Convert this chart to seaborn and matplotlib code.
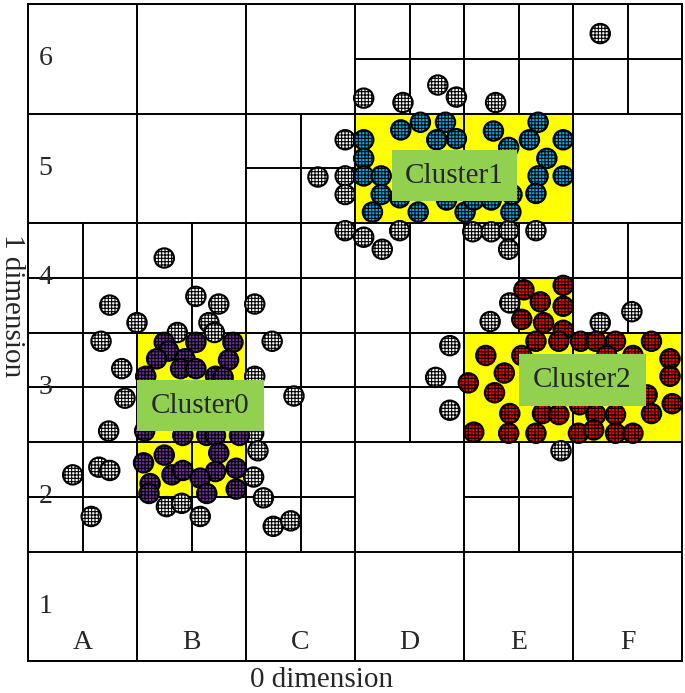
import matplotlib.pyplot as plt
import matplotlib.patches as mpatches
import seaborn as sns
import pandas as pd

# grid units: one cell = 1 along each dimension (A..F, 1..6)
col_labels = ["A", "B", "C", "D", "E", "F"]
row_labels = ["1", "2", "3", "4", "5", "6"]

# cells that are split into four (column index, row index)
split_cells = [(3, 5), (4, 5), (5, 5),
               (2, 4),
               (0, 3), (1, 3), (2, 3), (3, 3), (4, 3), (5, 3),
               (0, 2), (2, 2), (3, 2),
               (0, 1), (1, 1), (2, 1), (4, 1)]

# dense (yellow) regions: x, y, width, height
dense_areas = [(1.0, 1.5, 1.0, 1.5), (3.0, 4.0, 2.0, 1.0),
               (4.0, 2.0, 2.0, 1.0), (4.5, 3.0, 0.5, 0.5)]

cluster_names = ["Cluster0", "Cluster1", "Cluster2"]

noise_x = [1.25, 0.75, 1.54, 1.75, 2.08, 1.00, 1.66, 1.71, 1.37, 0.67, 2.24, 0.86, 2.08,
           0.89, 2.44, 2.07, 0.74, 2.11, 0.41, 0.65, 0.75, 2.07, 0.58, 1.27, 1.41, 1.58,
           2.16, 2.25, 2.41,
           5.25, 3.08, 3.44, 3.76, 3.93, 4.29, 2.91, 2.66, 2.91, 2.91, 2.91, 3.08, 3.25,
           3.41, 4.08, 4.25, 4.41, 4.41, 4.66,
           4.42, 4.24, 3.87, 3.74, 3.87, 5.25, 5.54, 4.89]
noise_y = [3.68, 3.25, 3.33, 3.26, 3.26, 3.09, 3.09, 3.00, 3.00, 2.92, 2.92, 2.67, 2.60,
           2.40, 2.42, 2.08, 2.10, 1.92, 1.70, 1.77, 1.74, 1.68, 1.32, 1.41, 1.44, 1.32,
           1.49, 1.23, 1.28,
           5.73, 5.14, 5.10, 5.26, 5.15, 5.10, 4.76, 4.42, 4.43, 4.26, 3.93, 3.87, 3.76,
           3.93, 3.92, 3.92, 3.93, 3.76, 3.93,
           3.27, 3.10, 2.88, 2.59, 2.29, 3.09, 3.19, 1.92]

c0_x = [1.25, 1.29, 1.54, 1.88, 1.18, 1.44, 1.84, 1.40, 1.54, 1.08, 1.72, 1.79, 1.07,
        1.42, 1.64, 1.72, 1.94, 1.25, 1.06, 1.75, 1.32, 1.42, 1.72, 1.91, 1.58, 1.12,
        1.11, 1.64, 1.91]
c0_y = [2.91, 2.83, 2.91, 2.91, 2.76, 2.76, 2.75, 2.67, 2.67, 2.60, 2.60, 2.59, 2.10,
        2.06, 2.06, 2.06, 2.06, 1.88, 1.81, 1.90, 1.70, 1.74, 1.73, 1.76, 1.67, 1.62,
        1.53, 1.53, 1.57]

c1_x = [3.08, 3.08, 3.08, 3.24, 3.24, 3.16, 3.42, 3.60, 3.83, 3.75, 3.93, 4.27, 4.41,
        4.60, 4.68, 4.91, 4.76, 4.68, 4.91, 4.66, 3.58, 4.01, 4.43, 3.41, 3.84, 4.09,
        4.25, 4.44]
c1_y = [4.76, 4.59, 4.43, 4.43, 4.26, 4.10, 4.85, 4.92, 4.92, 4.76, 4.77, 4.84, 4.69,
        4.76, 4.92, 4.76, 4.59, 4.43, 4.43, 4.27, 4.10, 4.10, 4.10, 4.23, 4.21, 4.21,
        4.21, 4.26]

c2_x = [4.55, 4.70, 4.91, 4.91, 4.53, 4.73, 4.91, 4.66, 4.87, 5.07, 5.21, 5.39, 5.72,
        4.20, 4.53, 4.37, 4.04, 4.28, 5.89, 5.89, 5.91, 5.72, 4.42, 4.72, 4.87, 5.06,
        5.21, 5.39, 4.09, 4.41, 4.66, 5.05, 5.19, 5.39, 5.55, 5.68, 5.31, 5.55]
c2_y = [3.39, 3.28, 3.43, 3.24, 3.12, 3.09, 3.02, 2.92, 2.92, 2.92, 2.92, 2.92, 2.92,
        2.79, 2.79, 2.63, 2.54, 2.45, 2.76, 2.60, 2.35, 2.26, 2.26, 2.26, 2.25, 2.34,
        2.25, 2.25, 2.09, 2.08, 2.08, 2.08, 2.11, 2.08, 2.08, 2.43, 2.79, 2.79]

# green name tags: x, y, width, height
tag_boxes = [(1.00, 2.10, 1.165, 0.466), (3.34, 4.20, 1.146, 0.467),
             (4.505, 2.33, 1.165, 0.475)]

df = pd.concat([
    pd.DataFrame({"x": noise_x, "y": noise_y, "group": "noise"}),
    pd.DataFrame({"x": c0_x, "y": c0_y, "group": "Cluster0"}),
    pd.DataFrame({"x": c1_x, "y": c1_y, "group": "Cluster1"}),
    pd.DataFrame({"x": c2_x, "y": c2_y, "group": "Cluster2"}),
], ignore_index=True)

palette = {"noise": "white", "Cluster0": "#7030A0",
           "Cluster1": "#00B0F0", "Cluster2": "#FF0000"}

sns.set_style("white")
plt.rcParams["font.family"] = ["Liberation Serif", "DejaVu Serif"]
plt.rcParams["hatch.linewidth"] = 0.8

fig = plt.figure(figsize=(6.85, 6.93), dpi=100)
ax = fig.add_axes([28 / 685, 32 / 693, 654 / 685, 657 / 693])

for (x0, y0, w, h) in dense_areas:
    ax.add_patch(mpatches.Rectangle((x0, y0), w, h, facecolor="#FFFF00",
                                    edgecolor="none", zorder=1))

lw = 1.4
for i in range(7):
    ax.axvline(i, color="black", lw=lw, zorder=2)
    ax.axhline(i, color="black", lw=lw, zorder=2)
for (c, r) in split_cells:
    ax.plot([c + 0.5, c + 0.5], [r, r + 1], color="black", lw=lw, zorder=2)
    ax.plot([c, c + 1], [r + 0.5, r + 0.5], color="black", lw=lw, zorder=2)

sns.scatterplot(data=df, x="x", y="y", hue="group", palette=palette,
                hue_order=["noise", "Cluster0", "Cluster1", "Cluster2"],
                s=195, edgecolor="black", linewidth=1.5, hatch="+++++",
                legend=False, zorder=3, ax=ax)

for name, (x0, y0, w, h) in zip(cluster_names, tag_boxes):
    ax.add_patch(mpatches.Rectangle((x0, y0), w, h, facecolor="#92D050",
                                    edgecolor="none", zorder=4))
    ax.text(x0 + w / 2, y0 + h / 2, name, ha="center", va="center",
            fontsize=21, zorder=5)

for i, lab in enumerate(row_labels):
    ax.text(0.16, i + 0.5, lab, ha="center", va="center", fontsize=20, zorder=5)
for i, lab in enumerate(col_labels):
    ax.text(i + 0.5, 0.165, lab, ha="center", va="center", fontsize=20, zorder=5)

ax.set_xlim(0, 6)
ax.set_ylim(0, 6)
ax.set_xticks([])
ax.set_yticks([])
ax.set_xlabel("")
ax.set_ylabel("")
for sp in ax.spines.values():
    sp.set_color("black")
    sp.set_linewidth(lw)

fig.text(322 / 685, 1 - 680 / 693, "0 dimension", ha="center", va="center", fontsize=21)
fig.text(12 / 685, 1 - 306 / 693, "1 dimension", ha="center", va="center",
         fontsize=21, rotation=-90)

fig.savefig("out.png", dpi=100)
